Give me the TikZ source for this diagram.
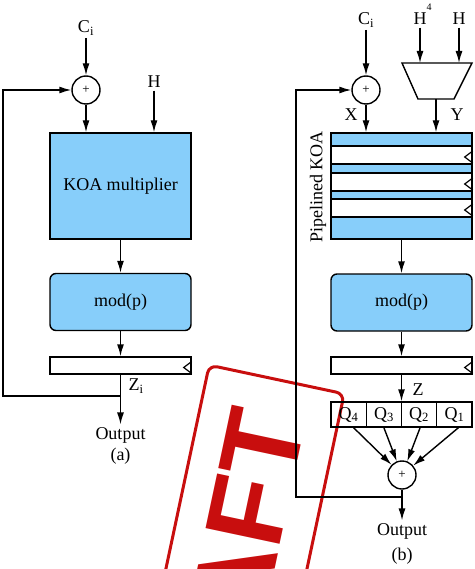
\documentclass[tikz,border=0pt]{standalone}
\usepackage{fontspec}
\setmainfont{Liberation Serif}
\newfontfamily\stampfont{Liberation Sans}
\usetikzlibrary{arrows.meta}
\definecolor{koablue}{RGB}{135,206,250}
\definecolor{stampred}{RGB}{200,14,14}

\begin{document}
\begin{tikzpicture}[x=1pt, y=-1pt, line width=1.4pt]
\tikzset{ >={Latex[length=12pt,width=7pt]},
  every node/.style={font=\fontsize{18}{20}\selectfont, inner sep=2pt},
  koabox/.style={draw, fill=koablue, minimum width=141pt, inner sep=0pt},
  regbox/.style={draw, fill=white, minimum width=141pt, minimum height=17pt, inner sep=0pt},
  adder/.style={draw, fill=white, circle, minimum size=28pt, inner sep=0pt, font=\fontsize{13}{13}\selectfont},
  qbox/.style={draw, minimum width=35.25pt, minimum height=25pt, inner sep=0pt},
}

\useasboundingbox (0,0) rectangle (474,569);
%\draw [lightgray, dashed](0,0) grid [step=50] (474,569);

% stamp
\begin{scope}
\clip (0,0) rectangle (474,569);
\node [draw=stampred, text=stampred, line width=3pt, rounded corners=8pt,
       rotate=78, anchor=east, minimum height=138pt, inner xsep=33pt,
       font=\stampfont\bfseries\fontsize{110}{110}\selectfont] (DR) at (277,378) {DRAFT};
\end{scope}

% (a)
\node (Ca) at (86,28) {C\textsubscript{i}};
\node [adder] (SA) at (86,90) {+};
\node (Ha) at (154,82) {H};
\node [koabox, minimum height=106pt] (KA) at (120.5,186) {KOA multiplier};
\node [koabox, rounded corners=6pt, minimum height=57pt] (MA) at (120.5,302) {mod(p)};
\node [regbox] (RA) at (120.5,365.5) {};
\node (Za) at (136,386) {Z\textsubscript{i}};
\coordinate (JA) at (120.5,396);
\coordinate (FA) at (3,396);
\node (OA) at (120.5,435) {Output};
\node (LA) at (120.5,456) {(a)};

\draw [->] (Ca) -- (SA);
\draw [->] (SA) -- (SA |- KA.north);
\draw [->] (Ha) -- (Ha |- KA.north);
\draw [->] (KA) -- (MA);
\draw [->] (MA) -- (RA);
\draw [->] (RA) -- (OA);
\draw [->] (JA) -- (FA) |- (SA);
\draw [line width=1.2pt] ([yshift=4pt]RA.east) -- ++(-8,6) -- ++(8,6);

% (b)
\node (Cb) at (366,20) {C\textsubscript{i}};
\node [adder] (SB) at (366,90) {+};
\node (Xb) at (351,115) {X};
\node (H4) at (420,19) {H\rlap{\smash{\raisebox{14pt}{\fontsize{10}{10}\selectfont 4}}}};
\node (Hb) at (459,19) {H};
\node (Yb) at (457,115) {Y};

\coordinate (MXa) at (402,63);
\coordinate (MXb) at (472,63);
\coordinate (MXc) at (454,99);
\coordinate (MXd) at (418,99);
\coordinate (MXo) at (436,99);
\draw [fill=white] (MXa) -- (MXb) -- (MXc) -- (MXd) -- cycle;

\node [koabox, minimum height=106pt] (KB) at (401.5,186) {};
\node [regbox, minimum height=18pt] (PA) at (401.5,155) {};
\node [regbox, minimum height=18pt] (PB) at (401.5,182) {};
\node [regbox, minimum height=18pt] (PC) at (401.5,208) {};
\draw [line width=1.2pt] ([yshift=4pt]PA.east) -- ++(-8,6) -- ++(8,6);
\draw [line width=1.2pt] ([yshift=4pt]PB.east) -- ++(-8,6) -- ++(8,6);
\draw [line width=1.2pt] ([yshift=4pt]PC.east) -- ++(-8,6) -- ++(8,6);
\node [rotate=90] (PK) at (318,187) {Pipelined KOA};

\node [koabox, rounded corners=6pt, minimum height=57pt] (MB) at (401.5,302.5) {mod(p)};
\node [regbox] (RB) at (401.5,365.5) {};
\draw [line width=1.2pt] ([yshift=4pt]RB.east) -- ++(-8,6) -- ++(8,6);
\node (Zb) at (418,390) {Z};

\node [qbox] (Q4) at (348.6,414.5) {Q\textsubscript{4}};
\node [qbox] (Q3) at (383.9,414.5) {Q\textsubscript{3}};
\node [qbox] (Q2) at (419.1,414.5) {Q\textsubscript{2}};
\node [qbox] (Q1) at (454.4,414.5) {Q\textsubscript{1}};
\node [adder] (SC) at (402,475) {+};
\coordinate (JB) at (402,497);
\coordinate (FB) at (296,497);
\node (OB) at (402,531) {Output};
\node (LB) at (402,556) {(b)};

\draw [->] (Cb) -- (SB);
\draw [->] (SB) -- (SB |- KB.north);
\draw [->] (H4) -- (H4 |- MXa);
\draw [->] (Hb) -- (Hb |- MXa);
\draw [->] (MXo) -- (MXo |- KB.north);
\draw [->] (KB) -- (MB);
\draw [->] (MB) -- (RB);
\draw [->] (RB) -- (RB |- Q4.north);
\draw [->] ([xshift=5pt]Q4.south) -- (SC);
\draw [->] (Q3.south) -- (SC);
\draw [->] ([xshift=1pt]Q2.south) -- (SC);
\draw [->] ([xshift=4pt]Q1.south) -- (SC);
\draw [->] (SC) -- (OB);
\draw [->] (JB) -- (FB) |- (SB);

\end{tikzpicture}
\end{document}
